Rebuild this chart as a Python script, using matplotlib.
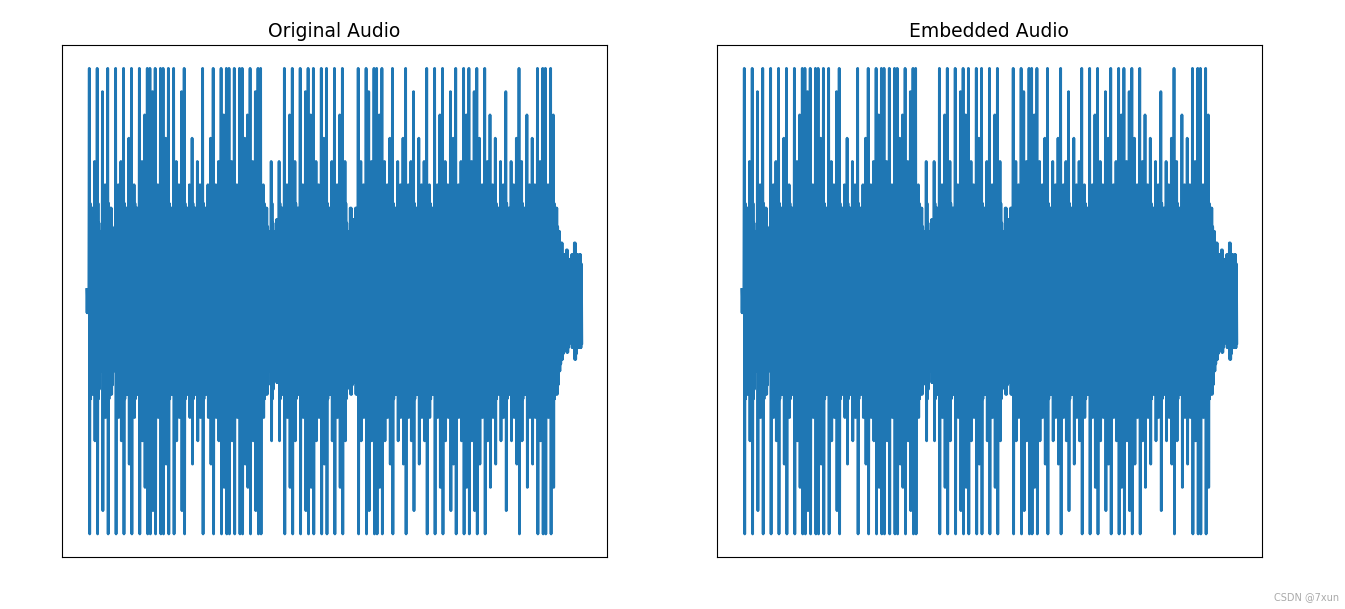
import numpy as np
import matplotlib.pyplot as plt

# envelope of the waveform, left to right (peak of each short burst)
peaks = [0.05, 1.0, 0.4, 0.6, 1.0, 0.3, 0.9, 0.5, 1.0, 0.4, 0.3, 1.0, 0.5, 0.6, 1.0, 0.4, 0.7, 1.0,
         0.5, 0.4, 1.0, 0.6, 0.8, 1.0, 1.0, 0.9, 1.0, 0.5, 1.0, 1.0, 0.7, 1.0, 0.4, 1.0, 0.6, 0.5,
         0.9, 1.0, 0.4, 0.5, 0.7, 0.4, 0.6, 0.5, 1.0, 0.4,
         0.5, 0.7, 1.0, 0.5, 0.6, 1.0, 0.8, 1.0, 1.0, 0.6, 1.0, 0.5, 1.0, 1.0, 0.7, 0.8, 1.0, 0.6,
         0.9, 1.0, 1.0, 0.5, 0.4, 0.3, 0.6, 0.3,
         0.35, 0.6, 0.4, 1.0, 0.5, 0.8, 1.0, 0.6, 0.4, 1.0, 0.5, 0.9, 1.0, 0.8, 1.0, 0.6, 0.5, 1.0,
         0.7, 1.0, 0.4, 0.6, 1.0, 0.5, 0.8, 1.0, 0.6, 0.3, 0.4, 0.35,
         0.4, 1.0, 0.6, 0.5, 1.0, 0.9, 0.6, 1.0, 1.0, 0.8, 1.0, 0.6, 0.5, 0.7, 1.0, 0.4, 0.6, 0.5,
         0.7, 1.0, 0.5, 0.6, 0.9, 0.4, 0.7, 0.5, 0.6, 1.0, 0.5, 0.4,
         1.0, 0.5, 0.8, 1.0, 0.6, 0.5, 0.9, 0.7, 1.0, 0.5, 0.6, 1.0, 0.8, 1.0, 0.6, 0.9, 1.0, 0.7,
         0.5, 1.0, 0.6, 0.8, 0.5, 0.7, 0.4, 0.6, 0.5, 0.9, 0.4, 0.6,
         0.5, 0.7, 1.0, 0.6, 0.4, 0.8, 0.5, 0.7, 0.5, 1.0, 0.6, 1.0, 1.0, 0.5, 1.0, 0.8, 0.4, 0.3,
         0.25, 0.2, 0.22, 0.18, 0.2, 0.25, 0.2, 0.2]
core_level = 0.42   # height of the dense middle band
titles = ["Original Audio", "Embedded Audio"]

# each burst: one spike to the peak, then a few swings inside the core band
audio = []
for p in peaks:
    c = min(p, core_level)
    audio += [p, -p, c, -c, c * 0.8, -c * 0.9]
audio = np.array(audio)
t = np.arange(len(audio))

fig = plt.figure(figsize=(13.45, 6.09), dpi=100)
boxes = [[0.046, 0.085, 0.405, 0.841], [0.533, 0.085, 0.405, 0.841]]
for b, title in zip(boxes, titles):
    ax = fig.add_axes(b)
    ax.plot(t, audio, color="#1f77b4", linewidth=2.0)
    ax.set_title(title, fontsize=13.5)
    ax.set_xticks([])
    ax.set_yticks([])

fig.text(0.947, 0.015, "CSDN @7xun", fontsize=7, color="#aaaaaa")
fig.savefig("out.png")
